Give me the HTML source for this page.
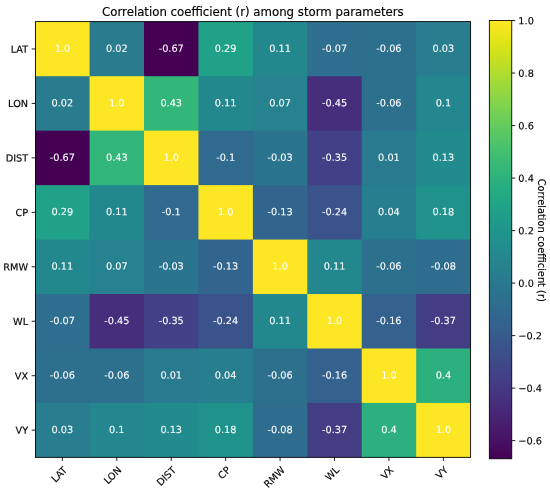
<!DOCTYPE html>
<html lang="en">
<head>
<meta charset="utf-8">
<title>Correlation coefficient (r) among storm parameters</title>
<style>
html,body{margin:0;padding:0;background:#fff;}
body{width:550px;height:493px;overflow:hidden;}
svg{display:block;}
text{font-family:"DejaVu Sans","Liberation Sans",sans-serif;font-size:9.74px;fill:#000;stroke:#000;stroke-width:0.15px;}
.t{font-size:11.76px;text-anchor:middle;}
.a{fill:#fff;stroke:#fff;stroke-width:0.12px;text-anchor:middle;}
.e{text-anchor:end;}
.k{stroke:#000;stroke-width:0.88;fill:none;}
</style>
</head>
<body>
<svg width="550" height="493" viewBox="0 0 550 493">
<defs><linearGradient id="vg" x1="0" y1="1" x2="0" y2="0"><stop offset="0.0000" stop-color="#440154"/><stop offset="0.0156" stop-color="#46075a"/><stop offset="0.0312" stop-color="#470d60"/><stop offset="0.0469" stop-color="#471365"/><stop offset="0.0625" stop-color="#48186a"/><stop offset="0.0781" stop-color="#481d6f"/><stop offset="0.0938" stop-color="#482374"/><stop offset="0.1094" stop-color="#482878"/><stop offset="0.1250" stop-color="#472d7b"/><stop offset="0.1406" stop-color="#46327e"/><stop offset="0.1562" stop-color="#453781"/><stop offset="0.1719" stop-color="#443b84"/><stop offset="0.1875" stop-color="#424086"/><stop offset="0.2031" stop-color="#404588"/><stop offset="0.2188" stop-color="#3e4989"/><stop offset="0.2344" stop-color="#3d4e8a"/><stop offset="0.2500" stop-color="#3b528b"/><stop offset="0.2656" stop-color="#39568c"/><stop offset="0.2812" stop-color="#375b8d"/><stop offset="0.2969" stop-color="#355f8d"/><stop offset="0.3125" stop-color="#33638d"/><stop offset="0.3281" stop-color="#31678e"/><stop offset="0.3438" stop-color="#2f6b8e"/><stop offset="0.3594" stop-color="#2e6f8e"/><stop offset="0.3750" stop-color="#2c728e"/><stop offset="0.3906" stop-color="#2a768e"/><stop offset="0.4062" stop-color="#297a8e"/><stop offset="0.4219" stop-color="#277e8e"/><stop offset="0.4375" stop-color="#26828e"/><stop offset="0.4531" stop-color="#25858e"/><stop offset="0.4688" stop-color="#23898e"/><stop offset="0.4844" stop-color="#228d8d"/><stop offset="0.5000" stop-color="#21918c"/><stop offset="0.5156" stop-color="#1f948c"/><stop offset="0.5312" stop-color="#1f988b"/><stop offset="0.5469" stop-color="#1e9c89"/><stop offset="0.5625" stop-color="#1fa088"/><stop offset="0.5781" stop-color="#20a386"/><stop offset="0.5938" stop-color="#22a785"/><stop offset="0.6094" stop-color="#25ab82"/><stop offset="0.6250" stop-color="#28ae80"/><stop offset="0.6406" stop-color="#2db27d"/><stop offset="0.6562" stop-color="#32b67a"/><stop offset="0.6719" stop-color="#38b977"/><stop offset="0.6875" stop-color="#3fbc73"/><stop offset="0.7031" stop-color="#46c06f"/><stop offset="0.7188" stop-color="#4ec36b"/><stop offset="0.7344" stop-color="#56c667"/><stop offset="0.7500" stop-color="#5ec962"/><stop offset="0.7656" stop-color="#67cc5c"/><stop offset="0.7812" stop-color="#70cf57"/><stop offset="0.7969" stop-color="#7ad151"/><stop offset="0.8125" stop-color="#84d44b"/><stop offset="0.8281" stop-color="#8ed645"/><stop offset="0.8438" stop-color="#98d83e"/><stop offset="0.8594" stop-color="#a2da37"/><stop offset="0.8750" stop-color="#addc30"/><stop offset="0.8906" stop-color="#b8de29"/><stop offset="0.9062" stop-color="#c2df23"/><stop offset="0.9219" stop-color="#cde11d"/><stop offset="0.9375" stop-color="#d8e219"/><stop offset="0.9531" stop-color="#e2e418"/><stop offset="0.9688" stop-color="#ece51b"/><stop offset="0.9844" stop-color="#f6e620"/><stop offset="1.0000" stop-color="#fde725"/></linearGradient></defs>
<rect x="0" y="0" width="550" height="493" fill="#fff"/>
<g>
<rect x="35.15" y="21.75" width="55.43" height="55.46" fill="#fde725"/>
<rect x="89.58" y="21.75" width="55.43" height="55.46" fill="#297b8e"/>
<rect x="144.01" y="21.75" width="55.43" height="55.46" fill="#440154"/>
<rect x="198.44" y="21.75" width="55.43" height="55.46" fill="#1fa287"/>
<rect x="252.88" y="21.75" width="55.43" height="55.46" fill="#23888e"/>
<rect x="307.31" y="21.75" width="55.43" height="55.46" fill="#2e6e8e"/>
<rect x="361.74" y="21.75" width="55.43" height="55.46" fill="#2d708e"/>
<rect x="416.17" y="21.75" width="54.43" height="55.46" fill="#287d8e"/>
<rect x="35.15" y="76.21" width="55.43" height="55.46" fill="#297b8e"/>
<rect x="89.58" y="76.21" width="55.43" height="55.46" fill="#fde725"/>
<rect x="144.01" y="76.21" width="55.43" height="55.46" fill="#32b67a"/>
<rect x="198.44" y="76.21" width="55.43" height="55.46" fill="#23888e"/>
<rect x="252.88" y="76.21" width="55.43" height="55.46" fill="#26828e"/>
<rect x="307.31" y="76.21" width="55.43" height="55.46" fill="#472e7c"/>
<rect x="361.74" y="76.21" width="55.43" height="55.46" fill="#2d708e"/>
<rect x="416.17" y="76.21" width="54.43" height="55.46" fill="#24868e"/>
<rect x="35.15" y="130.66" width="55.43" height="55.46" fill="#440154"/>
<rect x="89.58" y="130.66" width="55.43" height="55.46" fill="#32b67a"/>
<rect x="144.01" y="130.66" width="55.43" height="55.46" fill="#fde725"/>
<rect x="198.44" y="130.66" width="55.43" height="55.46" fill="#306a8e"/>
<rect x="252.88" y="130.66" width="55.43" height="55.46" fill="#2b748e"/>
<rect x="307.31" y="130.66" width="55.43" height="55.46" fill="#424086"/>
<rect x="361.74" y="130.66" width="55.43" height="55.46" fill="#297a8e"/>
<rect x="416.17" y="130.66" width="54.43" height="55.46" fill="#228b8d"/>
<rect x="35.15" y="185.12" width="55.43" height="55.46" fill="#1fa287"/>
<rect x="89.58" y="185.12" width="55.43" height="55.46" fill="#23888e"/>
<rect x="144.01" y="185.12" width="55.43" height="55.46" fill="#306a8e"/>
<rect x="198.44" y="185.12" width="55.43" height="55.46" fill="#fde725"/>
<rect x="252.88" y="185.12" width="55.43" height="55.46" fill="#32658e"/>
<rect x="307.31" y="185.12" width="55.43" height="55.46" fill="#3a538b"/>
<rect x="361.74" y="185.12" width="55.43" height="55.46" fill="#277e8e"/>
<rect x="416.17" y="185.12" width="54.43" height="55.46" fill="#20928c"/>
<rect x="35.15" y="239.57" width="55.43" height="55.46" fill="#23888e"/>
<rect x="89.58" y="239.57" width="55.43" height="55.46" fill="#26828e"/>
<rect x="144.01" y="239.57" width="55.43" height="55.46" fill="#2b748e"/>
<rect x="198.44" y="239.57" width="55.43" height="55.46" fill="#32658e"/>
<rect x="252.88" y="239.57" width="55.43" height="55.46" fill="#fde725"/>
<rect x="307.31" y="239.57" width="55.43" height="55.46" fill="#23888e"/>
<rect x="361.74" y="239.57" width="55.43" height="55.46" fill="#2d708e"/>
<rect x="416.17" y="239.57" width="54.43" height="55.46" fill="#2e6d8e"/>
<rect x="35.15" y="294.03" width="55.43" height="55.46" fill="#2e6e8e"/>
<rect x="89.58" y="294.03" width="55.43" height="55.46" fill="#472e7c"/>
<rect x="144.01" y="294.03" width="55.43" height="55.46" fill="#424086"/>
<rect x="198.44" y="294.03" width="55.43" height="55.46" fill="#3a538b"/>
<rect x="252.88" y="294.03" width="55.43" height="55.46" fill="#23888e"/>
<rect x="307.31" y="294.03" width="55.43" height="55.46" fill="#fde725"/>
<rect x="361.74" y="294.03" width="55.43" height="55.46" fill="#34618d"/>
<rect x="416.17" y="294.03" width="54.43" height="55.46" fill="#433d84"/>
<rect x="35.15" y="348.49" width="55.43" height="55.46" fill="#2d708e"/>
<rect x="89.58" y="348.49" width="55.43" height="55.46" fill="#2d708e"/>
<rect x="144.01" y="348.49" width="55.43" height="55.46" fill="#297a8e"/>
<rect x="198.44" y="348.49" width="55.43" height="55.46" fill="#277e8e"/>
<rect x="252.88" y="348.49" width="55.43" height="55.46" fill="#2d708e"/>
<rect x="307.31" y="348.49" width="55.43" height="55.46" fill="#34618d"/>
<rect x="361.74" y="348.49" width="55.43" height="55.46" fill="#fde725"/>
<rect x="416.17" y="348.49" width="54.43" height="55.46" fill="#2cb17e"/>
<rect x="35.15" y="402.94" width="55.43" height="54.46" fill="#287d8e"/>
<rect x="89.58" y="402.94" width="55.43" height="54.46" fill="#24868e"/>
<rect x="144.01" y="402.94" width="55.43" height="54.46" fill="#228b8d"/>
<rect x="198.44" y="402.94" width="55.43" height="54.46" fill="#20928c"/>
<rect x="252.88" y="402.94" width="55.43" height="54.46" fill="#2e6d8e"/>
<rect x="307.31" y="402.94" width="55.43" height="54.46" fill="#433d84"/>
<rect x="361.74" y="402.94" width="55.43" height="54.46" fill="#2cb17e"/>
<rect x="416.17" y="402.94" width="54.43" height="54.46" fill="#fde725"/>
</g>
<path class="k" d="M62.37 457.40v3.50M116.80 457.40v3.50M171.23 457.40v3.50M225.66 457.40v3.50M280.09 457.40v3.50M334.52 457.40v3.50M388.95 457.40v3.50M443.38 457.40v3.50M35.15 48.98h-3.50M35.15 103.43h-3.50M35.15 157.89h-3.50M35.15 212.35h-3.50M35.15 266.80h-3.50M35.15 321.26h-3.50M35.15 375.72h-3.50M35.15 430.17h-3.50"/>
<rect class="k" x="35.45" y="21.60" width="435.15" height="435.75"/>
<text class="e" x="67.77" y="470.70" transform="rotate(-45 67.77 470.70)">LAT</text>
<text class="e" x="122.20" y="470.70" transform="rotate(-45 122.20 470.70)">LON</text>
<text class="e" x="176.63" y="470.70" transform="rotate(-45 176.63 470.70)">DIST</text>
<text class="e" x="231.06" y="470.70" transform="rotate(-45 231.06 470.70)">CP</text>
<text class="e" x="285.49" y="470.70" transform="rotate(-45 285.49 470.70)">RMW</text>
<text class="e" x="339.92" y="470.70" transform="rotate(-45 339.92 470.70)">WL</text>
<text class="e" x="394.35" y="470.70" transform="rotate(-45 394.35 470.70)">VX</text>
<text class="e" x="448.78" y="470.70" transform="rotate(-45 448.78 470.70)">VY</text>
<text class="e" x="28.15" y="52.69" transform="rotate(0.03 28.15 52.69)">LAT</text>
<text class="e" x="28.15" y="107.14" transform="rotate(0.03 28.15 107.14)">LON</text>
<text class="e" x="28.15" y="161.60" transform="rotate(0.03 28.15 161.60)">DIST</text>
<text class="e" x="28.15" y="216.06" transform="rotate(0.03 28.15 216.06)">CP</text>
<text class="e" x="28.15" y="270.51" transform="rotate(0.03 28.15 270.51)">RMW</text>
<text class="e" x="28.15" y="324.97" transform="rotate(0.03 28.15 324.97)">WL</text>
<text class="e" x="28.15" y="379.43" transform="rotate(0.03 28.15 379.43)">VX</text>
<text class="e" x="28.15" y="433.88" transform="rotate(0.03 28.15 433.88)">VY</text>
<text class="a" x="62.37" y="51.77" transform="rotate(0.03 62.37 51.77)">1.0</text>
<text class="a" x="116.80" y="51.77" transform="rotate(0.03 116.80 51.77)">0.02</text>
<text class="a" x="171.23" y="51.77" transform="rotate(0.03 171.23 51.77)">-0.67</text>
<text class="a" x="225.66" y="51.77" transform="rotate(0.03 225.66 51.77)">0.29</text>
<text class="a" x="280.09" y="51.77" transform="rotate(0.03 280.09 51.77)">0.11</text>
<text class="a" x="334.52" y="51.77" transform="rotate(0.03 334.52 51.77)">-0.07</text>
<text class="a" x="388.95" y="51.77" transform="rotate(0.03 388.95 51.77)">-0.06</text>
<text class="a" x="443.38" y="51.77" transform="rotate(0.03 443.38 51.77)">0.03</text>
<text class="a" x="62.37" y="106.22" transform="rotate(0.03 62.37 106.22)">0.02</text>
<text class="a" x="116.80" y="106.22" transform="rotate(0.03 116.80 106.22)">1.0</text>
<text class="a" x="171.23" y="106.22" transform="rotate(0.03 171.23 106.22)">0.43</text>
<text class="a" x="225.66" y="106.22" transform="rotate(0.03 225.66 106.22)">0.11</text>
<text class="a" x="280.09" y="106.22" transform="rotate(0.03 280.09 106.22)">0.07</text>
<text class="a" x="334.52" y="106.22" transform="rotate(0.03 334.52 106.22)">-0.45</text>
<text class="a" x="388.95" y="106.22" transform="rotate(0.03 388.95 106.22)">-0.06</text>
<text class="a" x="443.38" y="106.22" transform="rotate(0.03 443.38 106.22)">0.1</text>
<text class="a" x="62.37" y="160.68" transform="rotate(0.03 62.37 160.68)">-0.67</text>
<text class="a" x="116.80" y="160.68" transform="rotate(0.03 116.80 160.68)">0.43</text>
<text class="a" x="171.23" y="160.68" transform="rotate(0.03 171.23 160.68)">1.0</text>
<text class="a" x="225.66" y="160.68" transform="rotate(0.03 225.66 160.68)">-0.1</text>
<text class="a" x="280.09" y="160.68" transform="rotate(0.03 280.09 160.68)">-0.03</text>
<text class="a" x="334.52" y="160.68" transform="rotate(0.03 334.52 160.68)">-0.35</text>
<text class="a" x="388.95" y="160.68" transform="rotate(0.03 388.95 160.68)">0.01</text>
<text class="a" x="443.38" y="160.68" transform="rotate(0.03 443.38 160.68)">0.13</text>
<text class="a" x="62.37" y="215.14" transform="rotate(0.03 62.37 215.14)">0.29</text>
<text class="a" x="116.80" y="215.14" transform="rotate(0.03 116.80 215.14)">0.11</text>
<text class="a" x="171.23" y="215.14" transform="rotate(0.03 171.23 215.14)">-0.1</text>
<text class="a" x="225.66" y="215.14" transform="rotate(0.03 225.66 215.14)">1.0</text>
<text class="a" x="280.09" y="215.14" transform="rotate(0.03 280.09 215.14)">-0.13</text>
<text class="a" x="334.52" y="215.14" transform="rotate(0.03 334.52 215.14)">-0.24</text>
<text class="a" x="388.95" y="215.14" transform="rotate(0.03 388.95 215.14)">0.04</text>
<text class="a" x="443.38" y="215.14" transform="rotate(0.03 443.38 215.14)">0.18</text>
<text class="a" x="62.37" y="269.59" transform="rotate(0.03 62.37 269.59)">0.11</text>
<text class="a" x="116.80" y="269.59" transform="rotate(0.03 116.80 269.59)">0.07</text>
<text class="a" x="171.23" y="269.59" transform="rotate(0.03 171.23 269.59)">-0.03</text>
<text class="a" x="225.66" y="269.59" transform="rotate(0.03 225.66 269.59)">-0.13</text>
<text class="a" x="280.09" y="269.59" transform="rotate(0.03 280.09 269.59)">1.0</text>
<text class="a" x="334.52" y="269.59" transform="rotate(0.03 334.52 269.59)">0.11</text>
<text class="a" x="388.95" y="269.59" transform="rotate(0.03 388.95 269.59)">-0.06</text>
<text class="a" x="443.38" y="269.59" transform="rotate(0.03 443.38 269.59)">-0.08</text>
<text class="a" x="62.37" y="324.05" transform="rotate(0.03 62.37 324.05)">-0.07</text>
<text class="a" x="116.80" y="324.05" transform="rotate(0.03 116.80 324.05)">-0.45</text>
<text class="a" x="171.23" y="324.05" transform="rotate(0.03 171.23 324.05)">-0.35</text>
<text class="a" x="225.66" y="324.05" transform="rotate(0.03 225.66 324.05)">-0.24</text>
<text class="a" x="280.09" y="324.05" transform="rotate(0.03 280.09 324.05)">0.11</text>
<text class="a" x="334.52" y="324.05" transform="rotate(0.03 334.52 324.05)">1.0</text>
<text class="a" x="388.95" y="324.05" transform="rotate(0.03 388.95 324.05)">-0.16</text>
<text class="a" x="443.38" y="324.05" transform="rotate(0.03 443.38 324.05)">-0.37</text>
<text class="a" x="62.37" y="378.51" transform="rotate(0.03 62.37 378.51)">-0.06</text>
<text class="a" x="116.80" y="378.51" transform="rotate(0.03 116.80 378.51)">-0.06</text>
<text class="a" x="171.23" y="378.51" transform="rotate(0.03 171.23 378.51)">0.01</text>
<text class="a" x="225.66" y="378.51" transform="rotate(0.03 225.66 378.51)">0.04</text>
<text class="a" x="280.09" y="378.51" transform="rotate(0.03 280.09 378.51)">-0.06</text>
<text class="a" x="334.52" y="378.51" transform="rotate(0.03 334.52 378.51)">-0.16</text>
<text class="a" x="388.95" y="378.51" transform="rotate(0.03 388.95 378.51)">1.0</text>
<text class="a" x="443.38" y="378.51" transform="rotate(0.03 443.38 378.51)">0.4</text>
<text class="a" x="62.37" y="432.96" transform="rotate(0.03 62.37 432.96)">0.03</text>
<text class="a" x="116.80" y="432.96" transform="rotate(0.03 116.80 432.96)">0.1</text>
<text class="a" x="171.23" y="432.96" transform="rotate(0.03 171.23 432.96)">0.13</text>
<text class="a" x="225.66" y="432.96" transform="rotate(0.03 225.66 432.96)">0.18</text>
<text class="a" x="280.09" y="432.96" transform="rotate(0.03 280.09 432.96)">-0.08</text>
<text class="a" x="334.52" y="432.96" transform="rotate(0.03 334.52 432.96)">-0.37</text>
<text class="a" x="388.95" y="432.96" transform="rotate(0.03 388.95 432.96)">0.4</text>
<text class="a" x="443.38" y="432.96" transform="rotate(0.03 443.38 432.96)">1.0</text>
<text class="t" x="252.88" y="15.89" transform="rotate(0.02 252.88 15.89)">Correlation coefficient (r) among storm parameters</text>
<rect x="489.35" y="20.55" width="22.40" height="438.20" fill="url(#vg)"/>
<path class="k" d="M511.75 440.63h3.50M511.75 388.12h3.50M511.75 335.61h3.50M511.75 283.10h3.50M511.75 230.59h3.50M511.75 178.08h3.50M511.75 125.57h3.50M511.75 73.06h3.50M511.75 20.55h3.50"/>
<rect class="k" x="489.35" y="20.55" width="22.40" height="438.20"/>
<text x="518.35" y="444.34" transform="rotate(0.03 518.35 444.34)">−0.6</text>
<text x="518.35" y="391.83" transform="rotate(0.03 518.35 391.83)">−0.4</text>
<text x="518.35" y="339.32" transform="rotate(0.03 518.35 339.32)">−0.2</text>
<text x="518.35" y="286.81" transform="rotate(0.03 518.35 286.81)">0.0</text>
<text x="518.35" y="234.30" transform="rotate(0.03 518.35 234.30)">0.2</text>
<text x="518.35" y="181.79" transform="rotate(0.03 518.35 181.79)">0.4</text>
<text x="518.35" y="129.28" transform="rotate(0.03 518.35 129.28)">0.6</text>
<text x="518.35" y="76.77" transform="rotate(0.03 518.35 76.77)">0.8</text>
<text x="518.35" y="24.26" transform="rotate(0.03 518.35 24.26)">1.0</text>
<text x="537.75" y="240.25" text-anchor="middle" style="font-size:9.81px" transform="rotate(90 537.75 240.25)">Correlation coefficient (r)</text>
</svg>
</body>
</html>
